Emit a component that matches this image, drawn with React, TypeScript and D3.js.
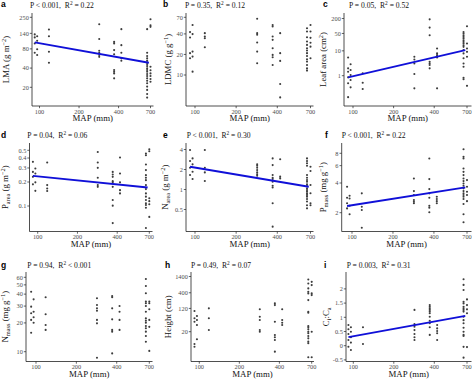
import React from 'react';
import * as d3 from 'd3';

// ---------- data ----------
const MAP_SITES = [92, 96, 118, 285, 370, 420, 660, 700];
const MAP_TICKS = [100, 200, 400, 700];
const FIT_MAP = [92, 680];

// values grouped by site (same order as MAP_SITES)
const lmaValues = [
  [135, 121, 97, 69.5], [126, 107, 79, 64], [161, 126, 72, 48.5],
  [195, 114, 74.6, 69.5, 64, 60], [103, 97, 76.5, 66, 37.3, 35, 33, 27.6],
  [163, 91.6, 69.5, 56.8, 52],
  [163, 69.5, 62, 57, 52.5, 49.2, 46.2, 43, 39.6, 37.3, 35, 32.3, 30, 27.6, 25.3, 23.1, 20.5, 18.2, 15.7, 13.8],
  [233, 188, 177, 42, 37, 33, 30, 27, 24.5],
];
const ldmcValues = [
  [42.5, 35.4, 20.9, 17.6], [54, 39.7, 22, 18.6, 11.2], [41, 36.6, 34.6, 25.5],
  [66.6, 41, 38.8, 29.9, 22, 14.9], [54, 51.3, 36.6, 32.7, 24.7, 19.7, 18.2, 14],
  [41, 20.9, 16.1, 7.4, 4.7],
  [48.5, 43.4, 35.8, 30.9, 27.6, 24.7, 22.8, 20.9, 19, 17, 15.7, 14, 12.5, 11.6],
  [54, 43.4, 35, 29.7, 26, 17.6],
];
const leafAreaValues = [
  [5.4, 1.98, 1.45, 0.86, 0.5, 0.137], [2.9, 1.69, 1.07, 0.67, 0.34], [1.25, 0.52, 0.29],
  [5.75, 4.5, 3.1, 1.17, 0.31], [185, 86, 42.5, 3.6, 3.1, 2.7, 1.98],
  [12.4, 7.9, 6.7, 5.4, 0.31],
  [57.5, 49.6, 42.5, 36.3, 31.3, 26.8, 22.9, 19.7, 16.9, 14.5, 10.7, 7.9, 5, 3.1, 2.3, 0.83, 0.72],
  [97, 19.7, 12.4, 9.1, 5.75, 0.39],
];
const pAreaValues = [
  [0.358, 0.268, 0.232, 0.187], [0.296, 0.256, 0.198, 0.155], [0.352, 0.183, 0.166, 0.154],
  [0.477, 0.352, 0.301, 0.226, 0.183, 0.174],
  [0.268, 0.249, 0.232, 0.205, 0.198, 0.174, 0.119, 0.101, 0.061],
  [0.406, 0.256, 0.198, 0.158, 0.144],
  [0.456, 0.434, 0.332, 0.282, 0.244, 0.226, 0.211, 0.183, 0.163, 0.144, 0.131, 0.119, 0.108, 0.103, 0.095, 0.053],
  [0.516, 0.487, 0.125, 0.115, 0.105, 0.073],
];
const nAreaValues = [
  [3.93, 2.68, 2.13, 1.65], [2.94, 2.39, 1.85, 1.44], [3.93, 2.13, 1.81, 1.34],
  [2.39, 2.28, 2.13, 1.96, 1.81, 1.69, 1.61],
  [2.94, 2.33, 1.65, 1.5, 1.44, 1.31, 1.14, 1.07, 0.62, 0.276],
  [2.85, 1.56, 1.47],
  [2.94, 2.68, 2.48, 2.28, 1.65, 1.5, 1.39, 1.31, 1.2, 1.13, 1.04, 0.98, 0.93, 0.88, 0.83, 0.78, 0.72, 0.66, 0.58, 0.52],
  [2.2, 1.9, 1.17, 0.88, 0.62, 0.58],
];
const pMassValues = [
  [3.66, 2.84, 2.49, 2.21], [2.97, 2.79, 2.35, 1.93], [3.14, 2.3, 2.13, 1.41],
  [4.45, 3.31, 3.02, 2.69, 2.58, 2.49],
  [7.08, 4.38, 3.47, 3.14, 2.84, 2.35, 2.25, 2.02],
  [2.9, 2.75, 2.62, 2.49],
  [8.8, 7.36, 7.08, 5.61, 5.19, 4.81, 4.45, 4.18, 3.96, 3.75, 3.53, 3.31, 3.14, 3.02, 2.9, 2.75, 2.45, 1.93, 1.6],
  [4.28, 3.66, 3.26, 3.02, 2.62],
];
const nMassValues = [
  [42.4, 29.6, 25.2, 21.5, 15.8], [35.3, 26.2, 22.9, 20.1], [37.1, 24.6, 19, 16.9],
  [36.2, 30.8, 28.4, 26.8, 21.5, 19.8, 8.65],
  [38.3, 37.1, 28.4, 21.8, 16.9, 16.2, 9.6],
  [30.1, 26.2, 21.5, 16.9],
  [57.6, 48.6, 40.8, 33.4, 32.1, 30.1, 26.2, 22.3, 21.1, 20.1, 18.6, 17.6, 16.2, 14.6, 12.7],
  [33.4, 32.1, 27.8, 21.5, 18.2, 10.2],
];
const heightValues = [
  [98, 56, 43, 7.8, 6.3], [66.7, 49, 33.4, 11.2], [120.5, 56, 22.8],
  [112, 63, 49, 22.8, 20],
  [177, 155, 43, 15.5, 13, 10.6, 4.3],
  [112, 49, 39.9, 33.4],
  [1117, 820, 560, 431, 381, 228, 93, 86, 31, 28, 24, 20, 17.7, 14.4, 12, 9.3, 8.2, 2.8],
  [929, 721, 381, 334, 20, 2.8],
];
const ciCaValues = [
  [0.73, 0.58, 0.41, 0.2, -0.035], [0.65, 0.49, 0.3, 0.11, -0.15], [0.65, 0.06],
  [1.26, 0.76, 0.67, 0.55, 0.41, 0.3, 0.2],
  [1.43, 1.37, 1.32, 1.26, 1.2, 1.14, 1.02, 0.88, 0.79, 0.65, 0.38],
  [0.73, 0.61, 0.52, 0.44, 0.2],
  [2.34, 2.14, 1.96, 1.55, 1.49, 1.37, 1.32, 1.26, 1.2, 1.02, 0.9, 0.79, 0.63, 0.49, 0.38, 0.34, -0.04, -0.42],
  [1.63, 1.43, 1.28, 1.14, -0.05],
];

// y tick labels
const lmaTicks = [20, 40, 80, 140, 250];
const ldmcTicks = [10, 20, 40, 70];
const leafAreaTicks = [1, 10, 50, 200];
const pAreaTicks = [0.1, 0.2, 0.3, 0.4, 0.5];
const nAreaTicks = [0.5, 1, 2, 4];
const pMassTicks = [2, 4, 6, 8];
const nMassTicks = [10, 20, 30, 40, 50, 60];
const heightTicks = [20, 120, 400, 1400];
const ciCaTicks = [-0.5, 0, 0.5, 1, 1.5, 2];

// fitted line values at FIT_MAP ends (null = no line)
const lmaFit = [101, 48.4];
const leafAreaFit = [0.86, 10.7];
const pAreaFit = [0.239, 0.171];
const nAreaFit = [2.2, 1.1];
const pMassFit = [2.34, 3.61];
const ciCaFit = [0.3, 1.05];

const LETTERS = ['a', 'b', 'c', 'd', 'e', 'f', 'g', 'h', 'i'];
const STATS: [string, string, string][] = [
  ['P < 0.001,\u00a0\u00a0R', '2', ' = 0.22'],
  ['P = 0.35,\u00a0\u00a0R', '2', ' = 0.12'],
  ['P = 0.05,\u00a0\u00a0R', '2', ' = 0.52'],
  ['P = 0.04,\u00a0\u00a0R', '2', ' = 0.06'],
  ['P < 0.001,\u00a0\u00a0R', '2', ' = 0.30'],
  ['P < 0.001,\u00a0\u00a0R', '2', ' = 0.22'],
  ['P = 0.94,\u00a0\u00a0R', '2', ' < 0.001'],
  ['P = 0.49,\u00a0\u00a0R', '2', ' = 0.07'],
  ['P = 0.003,\u00a0\u00a0R', '2', ' = 0.31'],
];
type Seg = [string, 'n' | 'sup' | 'sub'];
const Y_LABELS: Seg[][] = [
  [['LMA (g m', 'n'], ['\u22122', 'sup'], [')', 'n']],
  [['LDMC (g g', 'n'], ['\u22121', 'sup'], [')', 'n']],
  [['Leaf area (cm', 'n'], ['2', 'sup'], [')', 'n']],
  [['P', 'n'], ['area', 'sub'], [' (g m', 'n'], ['\u22122', 'sup'], [')', 'n']],
  [['N', 'n'], ['area', 'sub'], [' (g m', 'n'], ['\u22122', 'sup'], [')', 'n']],
  [['P', 'n'], ['mass', 'sub'], [' (mg g', 'n'], ['\u22121', 'sup'], [')', 'n']],
  [['N', 'n'], ['mass', 'sub'], [' (mg g', 'n'], ['\u22121', 'sup'], [')', 'n']],
  [['Height (cm)', 'n']],
  [['C', 'n'], ['i', 'sub'], [':C', 'n'], ['a', 'sub']],
];
const X_LABEL = 'MAP (mm)';

const PANEL_VALUES = [lmaValues, ldmcValues, leafAreaValues, pAreaValues, nAreaValues, pMassValues, nMassValues, heightValues, ciCaValues];
const PANEL_TICKS = [lmaTicks, ldmcTicks, leafAreaTicks, pAreaTicks, nAreaTicks, pMassTicks, nMassTicks, heightTicks, ciCaTicks];
const PANEL_FITS = [lmaFit, null, leafAreaFit, pAreaFit, nAreaFit, pMassFit, null, null, ciCaFit];
const PANEL_LINEAR = [false, false, false, false, false, false, false, false, true];

// ---------- layout ----------
const ROWS = [
  { top: 13, bottom: 106, stat: 8.3, letter: 7 },
  { top: 143, bottom: 231.5, stat: 138.3, letter: 138.2 },
  { top: 272, bottom: 361.5, stat: 267.8, letter: 268 },
];
const LAYOUT = [
  { row: 0, ax: 32, x100: 39.5, x700: 150.5, xEnd: 153.5, yA: [20, 87.3], yB: [250, 17.3], ylx: 9, lx: 1, sx: 30 },
  { row: 0, ax: 186, x100: 195, x700: 310.5, xEnd: 313.5, yA: [10, 75], yB: [70, 17.3], ylx: 171, lx: 163, sx: 185 },
  { row: 0, ax: 344, x100: 353, x700: 467, xEnd: 471.5, yA: [1, 75.7], yB: [200, 18.5], ylx: 326, lx: 323, sx: 349 },
  { row: 1, ax: 29.5, x100: 37.7, x700: 149.3, xEnd: 152.5, yA: [0.1, 206], yB: [0.5, 150.3], ylx: 8, lx: 1, sx: 27.3 },
  { row: 1, ax: 186, x100: 195, x700: 310.5, xEnd: 313.5, yA: [1, 189.5], yB: [4, 149.5], ylx: 168, lx: 163, sx: 186.7 },
  { row: 1, ax: 341.7, x100: 352, x700: 467, xEnd: 471.5, yA: [2, 212.7], yB: [8, 153.3], ylx: 326, lx: 325, sx: 341.7 },
  { row: 2, ax: 26, x100: 36, x700: 149.3, xEnd: 152.5, yA: [10, 351.7], yB: [60, 277.3], ylx: 8, lx: 1, sx: 27.3 },
  { row: 2, ax: 191, x100: 199.3, x700: 311.7, xEnd: 314, yA: [20, 331.7], yB: [1400, 276.5], ylx: 171, lx: 165, sx: 191 },
  { row: 2, ax: 346, x100: 353.3, x700: 467, xEnd: 471.5, yA: [0, 345.7], yB: [2, 288.9], ylx: 329, lx: 324, sx: 346.7 },
];

const SERIF = "'Liberation Serif', 'Times New Roman', serif";
const SANS = "'Liberation Sans', Arial, sans-serif";
const TICK_FS = 6.3;
const TITLE_FS = 8.8;
const STAT_FS = 7.6;
const AXIS_COLOR = '#222';
const TICK_COLOR = '#4d4d4d';
const POINT_COLOR = '#3c3c3c';
const LINE_COLOR = '#1010d8';

function Rich({ segs, fs }: { segs: Seg[]; fs: number }) {
  let cur = 0;
  return (
    <>
      {segs.map(([t, k], i) => {
        const target = k === 'sup' ? -fs * 0.38 : k === 'sub' ? fs * 0.22 : 0;
        const dy = target - cur;
        cur = target;
        return (
          <tspan key={i} dy={dy} fontSize={k === 'n' ? fs : fs * 0.72}>
            {t}
          </tspan>
        );
      })}
    </>
  );
}

function Panel({ idx }: { idx: number }) {
  const L = LAYOUT[idx];
  const R = ROWS[L.row];
  const values = PANEL_VALUES[idx];
  const ticks = PANEL_TICKS[idx];
  const fit = PANEL_FITS[idx];
  const x = d3.scaleLog().domain([100, 700]).range([L.x100, L.x700]);
  const y = (PANEL_LINEAR[idx] ? d3.scaleLinear() : d3.scaleLog())
    .domain([L.yA[0], L.yB[0]])
    .range([L.yA[1], L.yB[1]]);
  const line = d3
    .line<[number, number]>()
    .x((d) => x(d[0]))
    .y((d) => y(d[1]));
  const stat = STATS[idx];
  const midY = (R.top + R.bottom) / 2;
  const midX = (L.ax + L.xEnd) / 2;

  return (
    <g>
      {/* points */}
      {values.map((arr, si) =>
        arr.map((v, j) => (
          <circle key={`${si}-${j}`} cx={x(MAP_SITES[si])} cy={y(v)} r={1.05} fill={POINT_COLOR} />
        ))
      )}
      {/* fit */}
      {fit && (
        <path
          d={line([
            [FIT_MAP[0], fit[0]],
            [FIT_MAP[1], fit[1]],
          ]) || ''}
          stroke={LINE_COLOR}
          strokeWidth={1.9}
          fill="none"
        />
      )}
      {/* axes */}
      <line x1={L.ax} x2={L.ax} y1={R.top} y2={R.bottom} stroke={AXIS_COLOR} strokeWidth={0.8} />
      <line x1={L.ax} x2={L.xEnd} y1={R.bottom} y2={R.bottom} stroke={AXIS_COLOR} strokeWidth={0.8} />
      {ticks.map((t) => (
        <g key={`y${t}`}>
          <line x1={L.ax - 2.2} x2={L.ax} y1={y(t)} y2={y(t)} stroke={AXIS_COLOR} strokeWidth={0.7} />
          <text
            x={L.ax - 3.2}
            y={y(t) + 2.2}
            textAnchor="end"
            fontSize={TICK_FS}
            fill={TICK_COLOR}
            fontFamily={SERIF}
          >
            {String(t)}
          </text>
        </g>
      ))}
      {MAP_TICKS.map((t) => (
        <g key={`x${t}`}>
          <line x1={x(t)} x2={x(t)} y1={R.bottom} y2={R.bottom + 2.2} stroke={AXIS_COLOR} strokeWidth={0.7} />
          <text
            x={x(t)}
            y={R.bottom + 7.8}
            textAnchor="middle"
            fontSize={TICK_FS}
            fill={TICK_COLOR}
            fontFamily={SERIF}
          >
            {String(t)}
          </text>
        </g>
      ))}
      {/* axis titles */}
      <text x={midX} y={R.bottom + 15.3} textAnchor="middle" fontSize={TITLE_FS} fontFamily={SERIF} fill="#111">
        {X_LABEL}
      </text>
      <text
        transform={`translate(${L.ylx},${midY}) rotate(-90)`}
        textAnchor="middle"
        fontSize={TITLE_FS}
        fontFamily={SERIF}
        fill="#111"
      >
        <Rich segs={Y_LABELS[idx]} fs={TITLE_FS} />
      </text>
      {/* stat label */}
      <text x={L.sx} y={R.stat} fontSize={STAT_FS} fontFamily={SERIF} fill="#111">
        <tspan>{stat[0]}</tspan>
        <tspan dy={-2.9} fontSize={STAT_FS * 0.7}>
          {stat[1]}
        </tspan>
        <tspan dy={2.9}>{stat[2]}</tspan>
      </text>
      {/* panel letter */}
      <text x={L.lx} y={R.letter} fontSize={8.5} fontWeight="bold" fontFamily={SANS} fill="#000">
        {LETTERS[idx]}
      </text>
    </g>
  );
}

export default function App() {
  return (
    <svg
      width={474}
      height={382}
      viewBox="0 0 474 382"
      style={{ position: 'absolute', left: 0, top: 0, background: '#fff' }}
    >
      <rect x={0} y={0} width={474} height={382} fill="#fff" />
      {LAYOUT.map((_, i) => (
        <Panel key={i} idx={i} />
      ))}
    </svg>
  );
}
